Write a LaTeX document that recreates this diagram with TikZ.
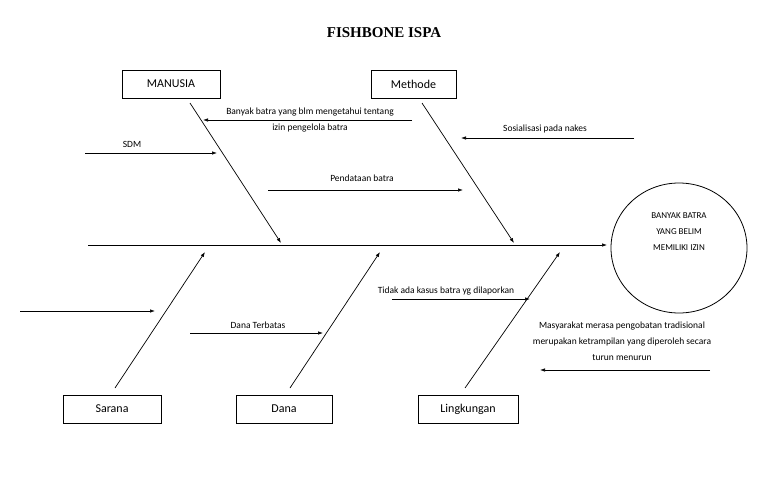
\documentclass[tikz,border=0pt]{standalone}
\usepackage{fontspec}
\setmainfont{Carlito}
\newfontfamily\titlefont{Liberation Serif}
\usetikzlibrary{arrows.meta,shapes.geometric}
\begin{document}
\begin{tikzpicture}[x=1pt,y=-1pt,
  boxn/.style={draw,line width=0.8pt,minimum height=28pt,inner sep=0pt,font=\fontsize{12}{14}\selectfont},
  lab/.style={font=\fontsize{9.5}{16}\selectfont,align=center,inner sep=0pt},
  arr/.style={-{Latex[length=5pt,width=3.5pt]},line width=0.7pt}]
\useasboundingbox (0,0) rectangle (768,503);
\node[font=\titlefont\bfseries\fontsize{15}{17}\selectfont] (title) at (384,33) {FISHBONE ISPA};
\node[boxn,minimum width=98pt] (man) at (171,84) {MANUSIA};
\node[boxn,minimum width=85pt] (met) at (413.5,84) {Methode};
\node[boxn,minimum width=98pt] (sar) at (112,409) {Sarana};
\node[boxn,minimum width=96pt] (dan) at (284,409) {Dana};
\node[boxn,minimum width=100pt] (lin) at (468,409) {Lingkungan};
\node[draw,line width=0.8pt,ellipse,minimum width=136pt,minimum height=130pt,inner sep=0pt] (eff) at (679,248) {};
\node[lab,font=\fontsize{9}{16}\selectfont] (efft) at (679,232) {BANYAK BATRA\\YANG BELIM\\MEMILIKI IZIN};
% spine
\coordinate (s0) at (88,245); \coordinate (s1) at (607,245);
\draw[arr] (s0) -- (s1);
% bones
\coordinate (m0) at (190,103); \coordinate (m1) at (281,243);
\coordinate (t0) at (422,103); \coordinate (t1) at (514,243);
\coordinate (a0) at (115,388); \coordinate (a1) at (205,252);
\coordinate (d0) at (290,388); \coordinate (d1) at (380,252);
\coordinate (l0) at (465,388); \coordinate (l1) at (560,252);
\foreach \p/\q in {m0/m1,t0/t1,a0/a1,d0/d1,l0/l1} \draw[arr] (\p) -- (\q);
% sub causes
\coordinate (b0) at (412,120); \coordinate (b1) at (203,120);
\draw[arr] (b0) -- (b1);
\node[lab] (bt) at (310,120) {Banyak batra yang blm mengetahui tentang\\izin pengelola batra};
\coordinate (sd0) at (85,153); \coordinate (sd1) at (217,153);
\draw[arr] (sd0) -- (sd1);
\node[lab] (sdt) at (132,144) {SDM};
\coordinate (so0) at (634,138); \coordinate (so1) at (461,138);
\draw[arr] (so0) -- (so1);
\node[lab] (sot) at (545,129) {Sosialisasi pada nakes};
\coordinate (p0) at (268,190); \coordinate (p1) at (463,190);
\draw[arr] (p0) -- (p1);
\node[lab] (pt) at (362,178) {Pendataan batra};
\coordinate (x0) at (20,311); \coordinate (x1) at (155,311);
\draw[arr] (x0) -- (x1);
\coordinate (dt0) at (190,333); \coordinate (dt1) at (323,333);
\draw[arr] (dt0) -- (dt1);
\node[lab] (dtt) at (258,325) {Dana Terbatas};
\coordinate (k0) at (392,299); \coordinate (k1) at (530,299);
\draw[arr] (k0) -- (k1);
\node[lab] (kt) at (446,291) {Tidak ada kasus batra yg dilaporkan};
\coordinate (ms0) at (710,370); \coordinate (ms1) at (540,370);
\draw[arr] (ms0) -- (ms1);
\node[lab] (mst) at (622,341) {Masyarakat merasa pengobatan tradisional\\merupakan ketrampilan yang diperoleh secara\\turun menurun};
\end{tikzpicture}
\end{document}
